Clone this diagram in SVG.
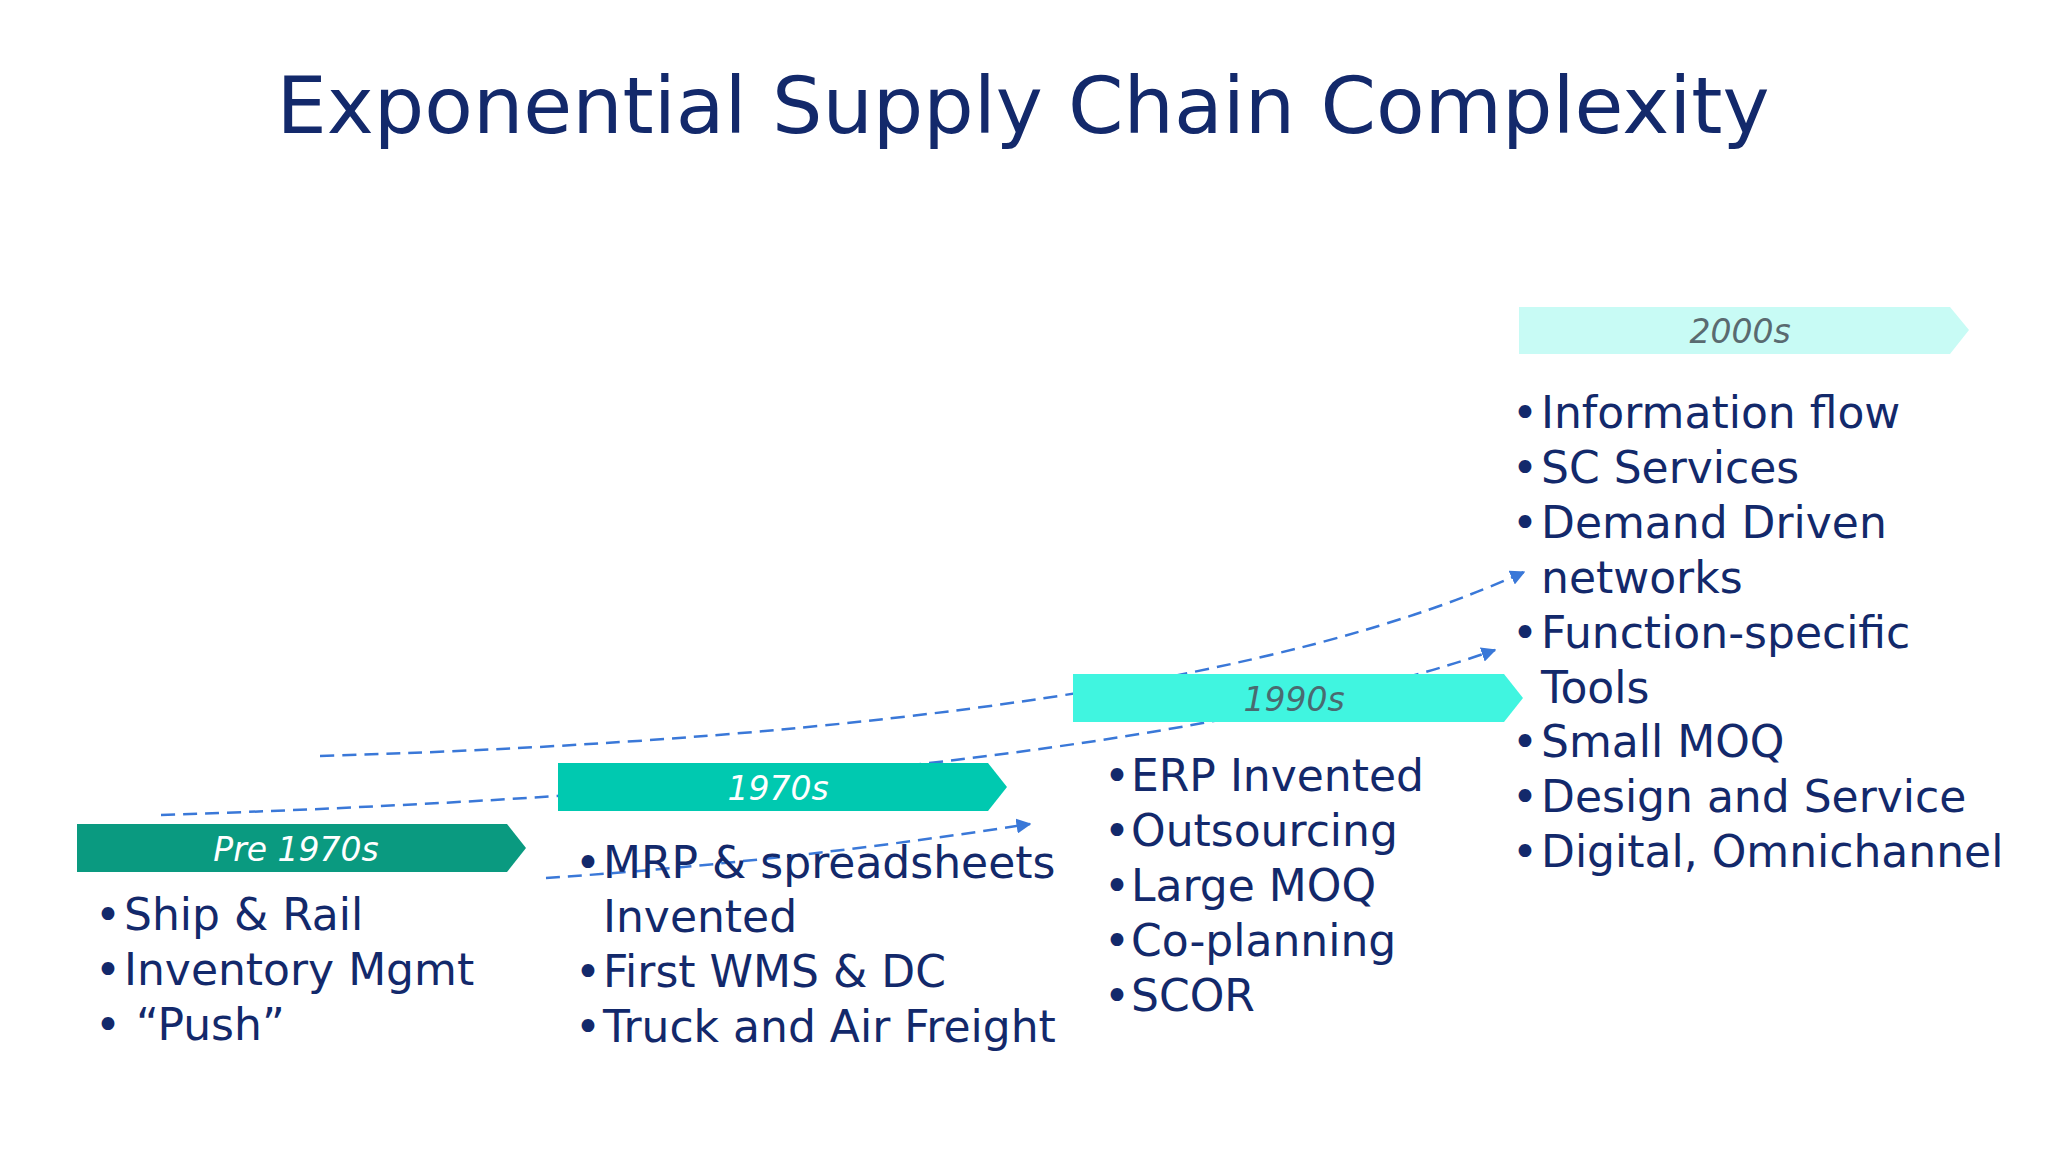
<svg xmlns="http://www.w3.org/2000/svg" width="2048" height="1152" viewBox="0 0 2048 1152">
<defs>
<style>
.t{font-family:"DejaVu Sans","Verdana",sans-serif;fill:#13296b}
.b{font-size:44px}
.lbl{font-family:"DejaVu Sans",sans-serif;font-style:italic;font-size:33px;text-anchor:middle}
.c{fill:none;stroke:#3a78d8;stroke-width:2.5;stroke-dasharray:14 8;marker-end:url(#ah)}
</style>
<marker id="ah" viewBox="0 0 10 10" refX="9" refY="5" markerWidth="6" markerHeight="6" orient="auto"><path d="M0,0 L10,5 L0,10 z" fill="#3a78d8"/></marker>
</defs>
<rect width="2048" height="1152" fill="#fff"/>
<text class="t" x="1023" y="133" font-size="78" text-anchor="middle" textLength="1493" lengthAdjust="spacingAndGlyphs">Exponential Supply Chain Complexity</text>
<g id="n2000s">
<polygon points="1519,307 1950,307 1969,330 1950,354 1519,354" fill="#c8fbf5"/>
<text class="lbl" x="1740" y="343" fill="#5a6a70">2000s</text>
<text class="t b" x="1512" y="428">•</text><text class="t b" x="1541" y="428">Information flow</text>
<text class="t b" x="1512" y="483">•</text><text class="t b" x="1541" y="483">SC Services</text>
<text class="t b" x="1512" y="538">•</text><text class="t b" x="1541" y="538">Demand Driven</text>
<text class="t b" x="1541" y="593">networks</text>
<text class="t b" x="1512" y="648">•</text><text class="t b" x="1541" y="648">Function-specific</text>
<text class="t b" x="1541" y="703">Tools</text>
<text class="t b" x="1512" y="757">•</text><text class="t b" x="1541" y="757">Small MOQ</text>
<text class="t b" x="1512" y="812">•</text><text class="t b" x="1541" y="812">Design and Service</text>
<text class="t b" x="1512" y="867">•</text><text class="t b" x="1541" y="867">Digital, Omnichannel</text>
</g>
<g id="connectors">
<path class="c" d="M320,756 Q1175,731 1524,572"/>
<path class="c" d="M161,815 Q1110,784 1495,650"/>
<path class="c" d="M546,878 Q784,862 1030,824"/>
</g>
<g id="n1990s">
<polygon points="1073,674 1504,674 1523,698 1504,722 1073,722" fill="#40f5e0"/>
<text class="lbl" x="1294" y="711" fill="#4a6a70">1990s</text>
<text class="t b" x="1104" y="791">•</text><text class="t b" x="1131" y="791">ERP Invented</text>
<text class="t b" x="1104" y="846">•</text><text class="t b" x="1131" y="846">Outsourcing</text>
<text class="t b" x="1104" y="901">•</text><text class="t b" x="1131" y="901">Large MOQ</text>
<text class="t b" x="1104" y="956">•</text><text class="t b" x="1131" y="956">Co-planning</text>
<text class="t b" x="1104" y="1011">•</text><text class="t b" x="1131" y="1011">SCOR</text>
</g>
<g id="n1970s">
<polygon points="558,763 988,763 1007,787 988,811 558,811" fill="#00c9b0"/>
<text class="lbl" x="778" y="800" fill="#fff">1970s</text>
<text class="t b" x="575" y="878">•</text><text class="t b" x="603" y="878">MRP &amp; spreadsheets</text>
<text class="t b" x="603" y="932">Invented</text>
<text class="t b" x="575" y="987">•</text><text class="t b" x="603" y="987">First WMS &amp; DC</text>
<text class="t b" x="575" y="1042">•</text><text class="t b" x="603" y="1042">Truck and Air Freight</text>
</g>
<g id="npre1970s">
<polygon points="77,824 507,824 526,848 507,872 77,872" fill="#0a9a80"/>
<text class="lbl" x="296" y="861" fill="#fff">Pre 1970s</text>
<text class="t b" x="95" y="930">•</text><text class="t b" x="124" y="930">Ship &amp; Rail</text>
<text class="t b" x="95" y="985">•</text><text class="t b" x="124" y="985">Inventory Mgmt</text>
<text class="t b" x="95" y="1040">•</text><text class="t b" x="136" y="1040">“Push”</text>
</g>
</svg>
